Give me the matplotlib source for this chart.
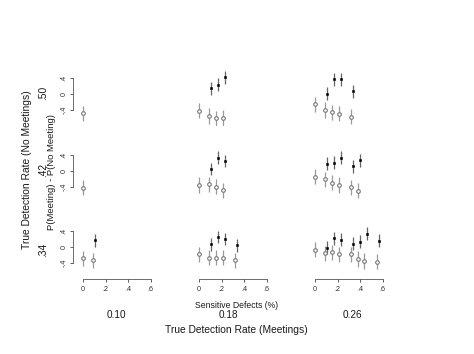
import matplotlib
matplotlib.use("Agg")
import matplotlib.pyplot as plt

plt.rcParams['font.family'] = ['Liberation Sans', 'DejaVu Sans']

W, H = 474, 354

# panel labels
row_labels = ['.50', '.42', '.34']          # true detection rate (no meetings)
col_labels = ['0.10', '0.18', '0.26']       # true detection rate (meetings)

# x positions (sensitive defects), shared by all panels
gray_x = [0, .086, .147, .21, .32, .38, .43, .55]
black_x = [.11, .17, .23, .34, .40, .46, .57]

# P(Meeting) - P(No Meeting), one list per row, one inner list per column
gray_y_50 = [[-0.48],
             [-0.42, -0.55, -0.61, -0.60],
             [-0.26, -0.40, -0.46, -0.49, -0.57]]
gray_y_42 = [[-0.42],
             [-0.35, -0.33, -0.39, -0.48],
             [-0.14, -0.21, -0.29, -0.35, -0.41, -0.49]]
gray_y_34 = [[-0.28, -0.33],
             [-0.18, -0.27, -0.27, -0.27, -0.33],
             [-0.07, -0.16, -0.13, -0.18, -0.18, -0.30, -0.35, -0.37]]

black_y_50 = [[],
              [0.14, 0.23, 0.42],
              [0.01, 0.37, 0.37, 0.07]]
black_y_42 = [[],
              [0.05, 0.33, 0.25],
              [0.18, 0.21, 0.33, 0.12, 0.27]]
black_y_34 = [[0.17],
              [0.07, 0.25, 0.20, 0.04],
              [-0.02, 0.22, 0.18, 0.08, 0.13, 0.33, 0.16]]

gray_err = 0.19
black_err = 0.16

gray_rows = [gray_y_50, gray_y_42, gray_y_34]
black_rows = [black_y_50, black_y_42, black_y_34]

fig = plt.figure(figsize=(W / 100, H / 100), dpi=100)

# pixel layout
col_zero = [83, 199, 315]
row_zero = [94, 171, 247]
xs, ys = 113.0, 40.0          # px per unit
xlim = (-0.09, 0.65)
ylim = (-0.8, 0.8)

for r in range(3):
    for c in range(3):
        left = col_zero[c] + xlim[0] * xs
        top = row_zero[r] - ylim[1] * ys
        w = (xlim[1] - xlim[0]) * xs
        h = (ylim[1] - ylim[0]) * ys
        ax = fig.add_axes([left / W, 1 - (top + h) / H, w / W, h / H])
        ax.set_xlim(*xlim)
        ax.set_ylim(*ylim)
        ax.patch.set_alpha(0)
        for s in ax.spines.values():
            s.set_visible(False)

        gy = gray_rows[r][c]
        by = black_rows[r][c]
        gx = gray_x[:len(gy)]
        bx = black_x[:len(by)]
        ax.errorbar(gx, gy, yerr=gray_err, fmt='o', ms=2.6, mfc='white',
                    mec='#777777', mew=0.8, ecolor='#9a9a9a', elinewidth=0.9,
                    capsize=0)
        if by:
            ax.errorbar(bx, by, yerr=black_err, fmt='s', ms=2.0, mfc='black',
                        mec='black', mew=0.4, ecolor='#666666', elinewidth=0.9,
                        capsize=0)

        ax.tick_params(colors='#444444', labelcolor='#333333', labelsize=5.2,
                       width=0.6)
        if c == 0:
            ax.spines['left'].set_visible(True)
            ax.spines['left'].set_bounds(-0.4, 0.4)
            ax.spines['left'].set_color('#555555')
            ax.spines['left'].set_linewidth(0.6)
            ax.set_yticks([-0.4, 0, 0.4])
            ax.set_yticklabels(['-.4', '0', '.4'], rotation=90, va='center')
            ax.tick_params(axis='y', length=2.2, pad=1.5)
        else:
            ax.set_yticks([])
        if r == 2:
            ax.spines['bottom'].set_visible(True)
            ax.spines['bottom'].set_bounds(0, 0.6)
            ax.spines['bottom'].set_color('#555555')
            ax.spines['bottom'].set_linewidth(0.6)
            ax.set_xticks([0, 0.2, 0.4, 0.6])
            ax.set_xticklabels(['0', '.2', '.4', '.6'])
            ax.tick_params(axis='x', length=2.2, pad=2.5)
        else:
            ax.set_xticks([])


def ftext(x, y, s, **kw):
    fig.text(x / W, 1 - y / H, s, ha='center', va='center', color='#1a1a1a', **kw)


ftext(27, 170, 'True Detection Rate (No Meetings)', fontsize=7.4, rotation=90)
for r, lab in enumerate(row_labels):
    ftext(43.5, [93, 170, 250][r], lab, fontsize=7.4, rotation=90)
ftext(52, 172, 'P(Meeting) - P(No Meeting)', fontsize=6.8, rotation=90)

ftext(237, 305, 'Sensitive Defects (%)', fontsize=6.2)
for c, lab in enumerate(col_labels):
    ftext([116, 228, 352][c], 315, lab, fontsize=7.2)
ftext(236.5, 330, 'True Detection Rate (Meetings)', fontsize=7.4)

fig.savefig('out.png', dpi=100)
